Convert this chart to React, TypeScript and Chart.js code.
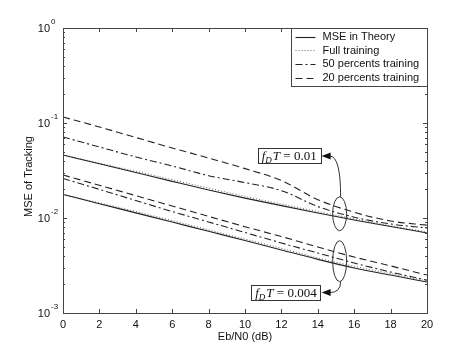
import React, { useEffect, useRef } from 'react';
import { Chart, registerables } from 'chart.js';
Chart.register(...registerables);

const ebn0 = [0, 2, 4, 6, 8, 10, 12, 14, 16, 18, 20];
const theoryHigh = [0.046, 0.0372, 0.0301, 0.0243, 0.0197, 0.0162, 0.0135, 0.0113, 0.00953, 0.00815, 0.00695];
const fullHigh = [0.0462, 0.0377, 0.031, 0.0253, 0.0206, 0.0169, 0.014, 0.0117, 0.0098, 0.0083, 0.0071];
const pct50High = [0.0713, 0.0559, 0.0439, 0.0353, 0.0279, 0.0236, 0.0194, 0.0132, 0.0102, 0.00865, 0.00785];
const pct20High = [0.1156, 0.0908, 0.0704, 0.0546, 0.0428, 0.0331, 0.0248, 0.0156, 0.0115, 0.0093, 0.0084];
const theoryLow = [0.01767, 0.01415, 0.01132, 0.00906, 0.00724, 0.0058, 0.00461, 0.00367, 0.00298, 0.00251, 0.00212];
const fullLow = [0.0178, 0.0144, 0.0117, 0.0094, 0.0075, 0.006, 0.0048, 0.0038, 0.0031, 0.0026, 0.00218];
const pct50Low = [0.0261, 0.02, 0.01528, 0.0117, 0.00908, 0.00704, 0.00546, 0.00428, 0.00336, 0.0027, 0.00222];
const pct20Low = [0.0284, 0.0221, 0.0172, 0.01337, 0.0104, 0.0081, 0.00638, 0.00495, 0.00388, 0.00313, 0.00251];

const legendLabels = ['MSE in Theory', 'Full training', '50 percents training', '20 percents training'];
const xTickValues = [0, 2, 4, 6, 8, 10, 12, 14, 16, 18, 20];
const yExponents = [0, -1, -2, -3];
const xTitle = 'Eb/N0 (dB)';
const yTitle = 'MSE of Tracking';

// annotations (data units)
const ellipseX = 15.2;
const ellipseHigh = [0.00735, 0.0167];
const ellipseLow = [0.00214, 0.00577];
const labelHighY = 0.045;
const labelLowY = 0.00164;
const labelHighValue = '0.01';
const labelLowValue = '0.004';

const lineStyles = [
  { dash: [] as number[], width: 1.1, color: '#222' },
  { dash: [1, 2], width: 1, color: '#666' },
  { dash: [7, 3, 2, 3], width: 1.1, color: '#222' },
  { dash: [7, 4], width: 1.1, color: '#222' },
];

const SANS = '"Liberation Sans", Arial, sans-serif';
const SERIF = '"Liberation Serif", "Times New Roman", serif';

const decor = {
  id: 'decor',
  afterDatasetsDraw(chart: any) {
    const { ctx, chartArea: a, scales } = chart;
    const xs = scales.x;
    const ys = scales.y;
    ctx.save();
    ctx.strokeStyle = '#444';
    ctx.lineWidth = 1;
    ctx.setLineDash([]);
    ctx.strokeRect(Math.round(a.left) + 0.5, Math.round(a.top) + 0.5, Math.round(a.right - a.left), Math.round(a.bottom - a.top));
    ctx.beginPath();
    for (const v of xTickValues) {
      const px = Math.round(xs.getPixelForValue(v)) + 0.5;
      ctx.moveTo(px, a.bottom);
      ctx.lineTo(px, a.bottom - 4);
      ctx.moveTo(px, a.top);
      ctx.lineTo(px, a.top + 4);
    }
    for (const e of yExponents) {
      const py = Math.round(ys.getPixelForValue(Math.pow(10, e))) + 0.5;
      ctx.moveTo(a.left, py);
      ctx.lineTo(a.left + 4, py);
      ctx.moveTo(a.right, py);
      ctx.lineTo(a.right - 4, py);
      if (e < 0) {
        for (let m = 2; m <= 9; m++) {
          const pm = Math.round(ys.getPixelForValue(m * Math.pow(10, e))) + 0.5;
          ctx.moveTo(a.left, pm);
          ctx.lineTo(a.left + 2, pm);
          ctx.moveTo(a.right, pm);
          ctx.lineTo(a.right - 2, pm);
        }
      }
    }
    ctx.stroke();

    // y tick labels
    ctx.fillStyle = '#111';
    for (const e of yExponents) {
      const py = ys.getPixelForValue(Math.pow(10, e));
      ctx.font = `11px ${SANS}`;
      ctx.textAlign = 'right';
      ctx.textBaseline = 'middle';
      ctx.fillText('10', a.left - 13, py + 0.5);
      ctx.font = `8px ${SANS}`;
      ctx.textAlign = 'left';
      ctx.fillText(String(e), a.left - 12, py - 6);
    }

    // axis titles
    ctx.font = `11px ${SANS}`;
    ctx.textAlign = 'center';
    ctx.textBaseline = 'middle';
    ctx.fillText(xTitle, (a.left + a.right) / 2, a.bottom + 24);
    ctx.save();
    ctx.translate(29, (a.top + a.bottom) / 2 + 6);
    ctx.rotate(-Math.PI / 2);
    ctx.fillText(yTitle, 0, 0);
    ctx.restore();

    // legend
    const lw = 136, lh = 58;
    const lx = Math.round(a.right - lw) + 0.5;
    const ly = Math.round(a.top) + 0.5;
    ctx.fillStyle = '#fff';
    ctx.fillRect(lx, ly, lw, lh);
    ctx.strokeStyle = '#444';
    ctx.lineWidth = 1;
    ctx.strokeRect(lx, ly, lw, lh);
    legendLabels.forEach((lab, i) => {
      const ry = ly + 8 + i * 13.7;
      const st = lineStyles[i];
      ctx.beginPath();
      ctx.setLineDash(st.dash);
      ctx.strokeStyle = st.color;
      ctx.lineWidth = st.width;
      ctx.moveTo(lx + 4, Math.round(ry) + 0.5);
      ctx.lineTo(lx + 24, Math.round(ry) + 0.5);
      ctx.stroke();
      ctx.setLineDash([]);
      ctx.fillStyle = '#111';
      ctx.font = `11px ${SANS}`;
      ctx.textAlign = 'left';
      ctx.textBaseline = 'middle';
      ctx.fillText(lab, lx + 31, ry + 0.5);
    });

    // annotations
    const cx = xs.getPixelForValue(ellipseX);
    const drawGroup = (range: number[], labelY: number, value: string, up: boolean) => {
      const yTop = ys.getPixelForValue(range[1]);
      const yBot = ys.getPixelForValue(range[0]);
      const cy = (yTop + yBot) / 2;
      const ry = (yBot - yTop) / 2;
      ctx.strokeStyle = '#333';
      ctx.lineWidth = 1;
      ctx.setLineDash([]);
      ctx.beginPath();
      ctx.ellipse(cx, cy, 7, ry, 0, 0, Math.PI * 2);
      ctx.stroke();

      // label box
      const by = ys.getPixelForValue(labelY);
      ctx.textBaseline = 'alphabetic';
      ctx.textAlign = 'left';
      const fF = `italic 13px ${SERIF}`;
      const fSub = `italic 9px ${SERIF}`;
      const fReg = `13px ${SERIF}`;
      ctx.font = fF; const wF = ctx.measureText('f').width;
      ctx.font = fSub; const wD = ctx.measureText('D').width;
      ctx.font = fF; const wT = ctx.measureText('T').width;
      ctx.font = fReg; const wR = ctx.measureText(' = ' + value).width;
      const tw = wF + wD + 1 + wT + wR;
      const boxRight = cx - 19;
      const boxLeft = boxRight - tw - 8;
      const bh = 15;
      ctx.fillStyle = '#fff';
      ctx.fillRect(Math.round(boxLeft) + 0.5, Math.round(by - bh / 2) + 0.5, Math.round(tw + 8), bh);
      ctx.strokeRect(Math.round(boxLeft) + 0.5, Math.round(by - bh / 2) + 0.5, Math.round(tw + 8), bh);
      let tx = boxLeft + 4;
      const base = by + 4.5;
      ctx.fillStyle = '#111';
      ctx.font = fF; ctx.fillText('f', tx, base); tx += wF;
      ctx.font = fSub; ctx.fillText('D', tx, base + 3); tx += wD + 1;
      ctx.font = fF; ctx.fillText('T', tx, base); tx += wT;
      ctx.font = fReg; ctx.fillText(' = ' + value, tx, base);

      // arrow
      const sy = up ? yTop : yBot;
      const ax = boxRight + 1;
      ctx.beginPath();
      ctx.moveTo(cx + 1, sy);
      ctx.quadraticCurveTo(cx + 1, by, ax + 8, by);
      ctx.stroke();
      ctx.beginPath();
      ctx.moveTo(ax, by);
      ctx.lineTo(ax + 9, by - 3.5);
      ctx.lineTo(ax + 9, by + 3.5);
      ctx.closePath();
      ctx.fillStyle = '#111';
      ctx.fill();
    };
    drawGroup(ellipseHigh, labelHighY, labelHighValue, true);
    drawGroup(ellipseLow, labelLowY, labelLowValue, false);
    ctx.restore();
  },
};

export default function App() {
  const ref = useRef<HTMLCanvasElement>(null);
  useEffect(() => {
    if (!ref.current) return;
    const groups = [
      [theoryHigh, fullHigh, pct50High, pct20High],
      [theoryLow, fullLow, pct50Low, pct20Low],
    ];
    const datasets: any[] = [];
    groups.forEach((g) => {
      g.forEach((vals, i) => {
        const st = lineStyles[i];
        datasets.push({
          label: legendLabels[i],
          data: ebn0.map((x, k) => ({ x, y: vals[k] })),
          borderColor: st.color,
          borderWidth: st.width,
          borderDash: st.dash,
          pointRadius: 0,
          fill: false,
          tension: 0.3,
          cubicInterpolationMode: 'monotone',
        });
      });
    });
    const chart = new Chart(ref.current, {
      type: 'line',
      data: { datasets },
      options: {
        responsive: false,
        animation: false,
        layout: { padding: { left: 0, top: 28, right: 47, bottom: 0 } },
        plugins: { legend: { display: false }, tooltip: { enabled: false } },
        scales: {
          x: {
            type: 'linear',
            min: 0,
            max: 20,
            afterBuildTicks: (s: any) => { s.ticks = xTickValues.map((v) => ({ value: v })); },
            afterFit: (s: any) => { s.height = 42; },
            grid: { display: false, drawTicks: false },
            border: { display: false },
            ticks: { color: '#111', font: { family: SANS, size: 11 }, padding: 5, maxRotation: 0 },
          },
          y: {
            type: 'logarithmic',
            min: 0.001,
            max: 1,
            afterFit: (s: any) => { s.width = 63; },
            grid: { display: false, drawTicks: false },
            border: { display: false },
            ticks: { display: false },
          },
        },
      },
      plugins: [decor],
    } as any);
    return () => chart.destroy();
  }, []);
  return (
    <div style={{ position: 'absolute', left: 0, top: 0, width: 474, height: 355, background: '#fff' }}>
      <canvas ref={ref} width={474} height={355} style={{ display: 'block' }} />
    </div>
  );
}
